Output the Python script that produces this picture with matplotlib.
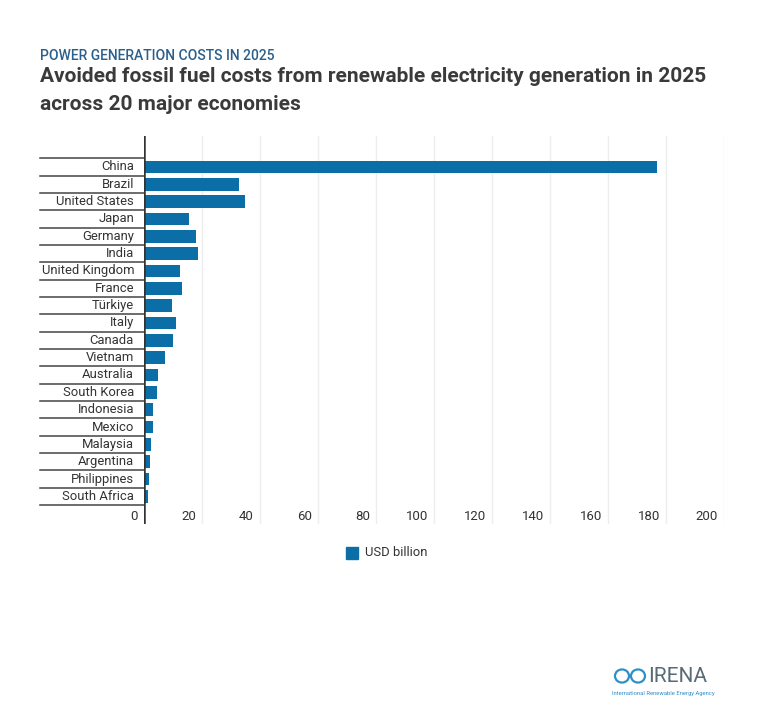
import matplotlib.pyplot as plt
import matplotlib.transforms as mtransforms
from matplotlib.patches import Rectangle, Circle

countries = ['China', 'Brazil', 'United States', 'Japan', 'Germany', 'India',
             'United Kingdom', 'France', 'Türkiye', 'Italy', 'Canada', 'Vietnam',
             'Australia', 'South Korea', 'Indonesia', 'Mexico', 'Malaysia',
             'Argentina', 'Philippines', 'South Africa']
values = [177, 32.8, 34.8, 15.5, 17.9, 18.6, 12.4, 13.1, 9.7, 11.0, 10.0, 7.2,
          4.8, 4.5, 3.1, 3.1, 2.4, 2.1, 1.7, 1.4]
xticks = [0, 20, 40, 60, 80, 100, 120, 140, 160, 180, 200]
series_name = 'USD billion'

bar_col = '#0b6ea7'
txt_col = '#333333'
plt.rcParams['font.family'] = ['Roboto', 'DejaVu Sans']

W, H = 760, 712
fig = plt.figure(figsize=(W / 100, H / 100), dpi=100)

# axes box in pixels
x0, x1, yt, yb = 144, 724, 136, 524
ax = fig.add_axes([x0 / W, 1 - yb / H, (x1 - x0) / W, (yb - yt) / H])

n = len(countries)
pitch = 17.37
row_top, row_bot = 158.3, 505
ax.set_ylim(n - 0.5 + (yb - row_bot) / pitch, -0.5 - (row_top - yt) / pitch)
ax.set_xlim(0, 200)

ax.barh(range(n), values, height=0.73, color=bar_col, zorder=3)

for x in xticks[1:]:
    ax.axvline(x, color='#ededed', lw=1, zorder=1)
ax.axvline(0, color='#333333', lw=1.8, zorder=4)

for s in ax.spines.values():
    s.set_visible(False)
ax.set_xticks([])
ax.set_yticks([])

# row separators to the left of the axis
tr = mtransforms.blended_transform_factory(ax.transAxes, ax.transData)
left = -(x0 - 40) / (x1 - x0)
for i in range(n + 1):
    ax.plot([left, 0], [i - 0.5, i - 0.5], transform=tr, color='#444444',
            lw=1.1, clip_on=False, zorder=2)

# category labels
off = mtransforms.ScaledTranslation(-10 / 100, 0, fig.dpi_scale_trans)
for i, c in enumerate(countries):
    ax.text(0, i, c, transform=tr + off, ha='right', va='center',
            fontsize=9.4, color=txt_col)

# x tick labels inside the axes, right-aligned to the gridlines
trx = mtransforms.blended_transform_factory(ax.transData, ax.transAxes)
off2 = mtransforms.ScaledTranslation(-6 / 100, 0, fig.dpi_scale_trans)
ylab = (yb - 516) / (yb - yt)
for x in xticks:
    ax.text(x, ylab, str(x), transform=trx + off2, ha='right', va='center',
            fontsize=9.5, color=txt_col)

# titles
fig.text(40 / W, 1 - 56 / H, 'POWER GENERATION COSTS IN 2025', fontsize=10,
         color='#2b5f8c', weight='medium', va='center')
fig.text(40 / W, 1 - 77 / H, 'Avoided fossil fuel costs from renewable electricity generation in 2025',
         fontsize=15, color='#3a3a3a', weight='bold', va='center')
fig.text(40 / W, 1 - 104 / H, 'across 20 major economies',
         fontsize=15, color='#3a3a3a', weight='bold', va='center')

# legend
fig.patches.append(Rectangle((346 / W, 1 - 559 / H), 12 / W, 12 / H,
                             transform=fig.transFigure, color=bar_col))
fig.text(365 / W, 1 - 553 / H, series_name, fontsize=9.4, color=txt_col, va='center')

# IRENA mark
for cx in (622, 638):
    fig.patches.append(Circle((cx / W, 1 - 676 / H), 7 / W, transform=fig.transFigure,
                              fill=False, ec='#2f8fc9', lw=1.6))
fig.text(648 / W, 1 - 676 / H, 'IRENA', fontsize=15, color='#5a6b78', va='center')
fig.text(612 / W, 1 - 693 / H, 'International Renewable Energy Agency', fontsize=4.2,
         color='#2f8fc9', va='center')

fig.savefig('out.png', dpi=100, facecolor='white')
